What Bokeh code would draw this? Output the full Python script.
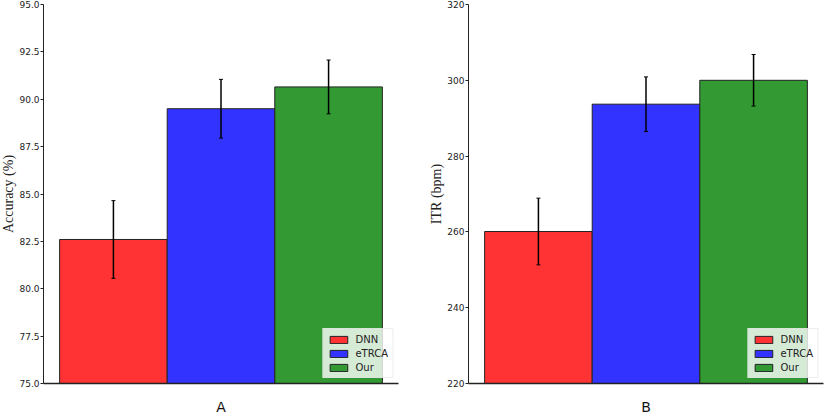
from bokeh.plotting import figure
from bokeh.layouts import row
from bokeh.models import (ColumnDataSource, Range1d, FixedTicker, PrintfTickFormatter,
                          Whisker, TeeHead, Legend, LegendItem)
from bokeh.embed import file_html
from bokeh.resources import INLINE

# Methods compared
methods = ["DNN", "eTRCA", "Our"]
colors = ["#ff3333", "#3333ff", "#339933"]

# Panel A: classification accuracy (%) with standard error
acc_mean = [82.6, 89.5, 90.65]
acc_err = [2.05, 1.55, 1.42]
acc_ticks = [75.0, 77.5, 80.0, 82.5, 85.0, 87.5, 90.0, 92.5, 95.0]

# Panel B: information transfer rate (bits per minute)
itr_mean = [260.1, 293.7, 300.0]
itr_err = [8.8, 7.2, 6.8]
itr_ticks = [220, 240, 260, 280, 300, 320]


def panel(means, errs, ticks, ylabel, xlabel, fmt, width, border_left, border_right):
    lo, hi = ticks[0], ticks[-1]
    src = ColumnDataSource(dict(
        x=list(range(len(methods))),
        top=means,
        upper=[m + e for m, e in zip(means, errs)],
        lower=[m - e for m, e in zip(means, errs)],
        color=colors,
        label=methods,
    ))
    p = figure(width=width, height=417, output_backend="svg", toolbar_location=None,
               x_range=Range1d(-0.65, 2.65), y_range=Range1d(lo, hi),
               min_border_left=border_left, min_border_right=border_right,
               min_border_top=4, min_border_bottom=33)
    p.outline_line_color = None
    p.xgrid.visible = False
    p.ygrid.visible = False

    bars = p.vbar(x="x", top="top", bottom=lo, width=1.0, source=src,
                  fill_color="color", line_color="#222222", line_width=1)

    whisk = Whisker(base="x", upper="upper", lower="lower", source=src,
                    line_color="black", line_width=1.5, level="overlay",
                    upper_head=TeeHead(size=4, line_color="black", line_width=1),
                    lower_head=TeeHead(size=4, line_color="black", line_width=1))
    p.add_layout(whisk)

    # y axis
    ya = p.yaxis[0]
    ya.ticker = FixedTicker(ticks=ticks)
    ya.formatter = PrintfTickFormatter(format=fmt)
    ya.minor_tick_line_color = None
    ya.major_tick_out = 3
    ya.major_tick_in = 0
    ya.major_label_standoff = 1
    ya.major_label_text_font = "DejaVu Sans"
    ya.major_label_text_font_size = "9px"
    ya.major_label_text_color = "#222222"
    ya.axis_line_color = "#222222"
    ya.major_tick_line_color = "#222222"
    ya.axis_label = ylabel
    ya.axis_label_text_font = "Liberation Serif"
    ya.axis_label_text_font_size = "14px"
    ya.axis_label_text_font_style = "normal"
    ya.axis_label_text_color = "#222222"
    ya.axis_label_standoff = 0

    # x axis: bare spine with a panel letter beneath
    xa = p.xaxis[0]
    xa.ticker = FixedTicker(ticks=[])
    xa.minor_tick_line_color = None
    xa.major_tick_out = 0
    xa.major_tick_in = 0
    xa.major_label_standoff = 0
    xa.axis_line_color = "#222222"
    xa.axis_line_width = 1.3
    xa.axis_label = xlabel
    xa.axis_label_text_font = "DejaVu Sans"
    xa.axis_label_text_font_size = "14px"
    xa.axis_label_text_font_style = "normal"
    xa.axis_label_text_color = "#111111"
    xa.axis_label_standoff = 15

    legend = Legend(items=[LegendItem(label=m, renderers=[bars], index=i)
                           for i, m in enumerate(methods)],
                    location="bottom_right")
    legend.label_text_font = "DejaVu Sans"
    legend.label_text_font_size = "10px"
    legend.label_text_color = "#222222"
    legend.glyph_width = 22
    legend.glyph_height = 9
    legend.label_height = 12
    legend.label_standoff = 6
    legend.spacing = 2
    legend.padding = 4
    legend.margin = 5
    legend.background_fill_alpha = 0.8
    legend.border_line_color = "#dddddd"
    p.add_layout(legend)
    return p


pa = panel(acc_mean, acc_err, acc_ticks, "Accuracy (%)", "A", "%.1f", 414, 43, 14)
pa.margin = (0, 0, 0, -2)
pb = panel(itr_mean, itr_err, itr_ticks, "ITR (bpm)", "B", "%d", 412, 56, 1)

layout = row(pa, pb, spacing=0)
open("out.html", "w").write(file_html(layout, INLINE))
